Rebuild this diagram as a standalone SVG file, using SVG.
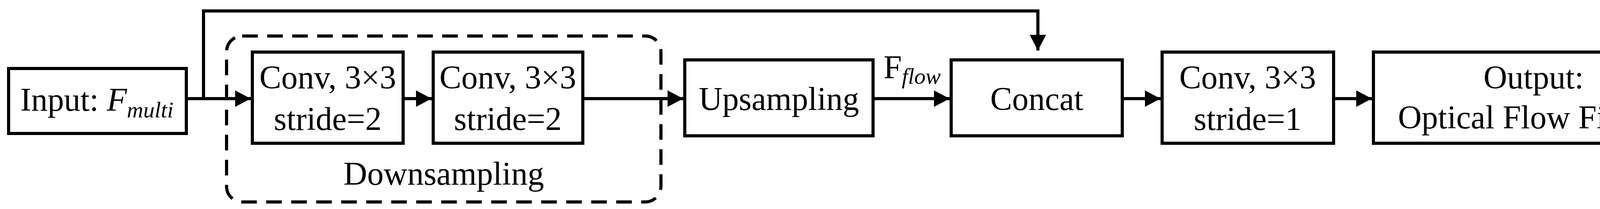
<svg xmlns="http://www.w3.org/2000/svg" width="4348" height="534" viewBox="0 0 4348 534">
<style>
.b{fill:#fff;stroke:#000;stroke-width:8}
.t{font-family:"Liberation Serif",serif;font-size:84px;fill:#000;text-anchor:middle}
.l{fill:none;stroke:#000;stroke-width:8}
</style>
<defs><marker id="a" markerUnits="userSpaceOnUse" markerWidth="40" markerHeight="42" refX="40" refY="21" orient="auto"><path d="M0,0L40,21L0,42z"/></marker></defs>
<rect width="4348" height="534" fill="#fff"/>
<g id="connectors">
<path class="l" d="M477,252H642" marker-end="url(#a)"/>
<path class="l" d="M521,252V28H2657V129" marker-end="url(#a)"/>
<path class="l" d="M1032,252H1105" marker-end="url(#a)"/>
<path class="l" d="M1492,252H1749" marker-end="url(#a)"/>
<path class="l" d="M2235,252H2431" marker-end="url(#a)"/>
<path class="l" d="M2873,252H2971" marker-end="url(#a)"/>
<path class="l" d="M3414,252H3512" marker-end="url(#a)"/>
<text class="t" x="2335" y="200">F<tspan font-style="italic" font-size="58" dy="14">flow</tspan></text>
</g>
<g id="downsampling"><rect x="580" y="92" width="1112" height="424" rx="40" fill="none" stroke="#000" stroke-width="8" stroke-dasharray="40,24"/><text class="t" x="1136" y="472">Downsampling</text></g>
<g id="input"><rect class="b" x="22" y="175" width="455" height="166"/><text class="t" x="248" y="283">Input: <tspan font-style="italic">F</tspan><tspan font-style="italic" font-size="58" dy="17">multi</tspan></text></g>
<g id="conv1"><rect class="b" x="646" y="133" width="386" height="233"/><text class="t" x="839" y="226">Conv, 3×3</text><text class="t" x="839" y="332">stride=2</text></g>
<g id="conv2"><rect class="b" x="1109" y="133" width="383" height="233"/><text class="t" x="1300" y="226">Conv, 3×3</text><text class="t" x="1300" y="332">stride=2</text></g>
<g id="upsampling"><rect class="b" x="1753" y="153" width="482" height="194"/><text class="t" x="1994" y="281">Upsampling</text></g>
<g id="concat"><rect class="b" x="2435" y="153" width="438" height="194"/><text class="t" x="2654" y="281">Concat</text></g>
<g id="conv3"><rect class="b" x="2975" y="133" width="439" height="233"/><text class="t" x="3194" y="226">Conv, 3×3</text><text class="t" x="3194" y="332">stride=1</text></g>
<g id="output"><rect class="b" x="3516" y="133" width="821" height="233"/><text class="t" x="3926" y="226">Output:</text><text class="t" x="3926" y="328">Optical Flow Field <tspan font-style="italic">δ</tspan></text></g>
</svg>
